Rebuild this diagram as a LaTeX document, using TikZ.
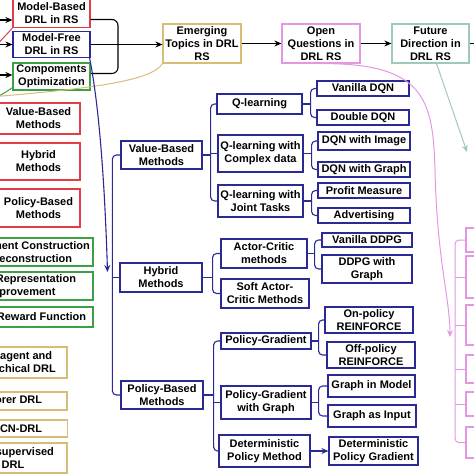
\documentclass[tikz,border=0pt]{standalone}
\usepackage{fontspec}
\setmainfont{Liberation Sans}
\usetikzlibrary{calc, arrows.meta}

\definecolor{mbred}{RGB}{226,62,72}
\definecolor{mfblue}{RGB}{42,42,150}
\definecolor{cogreen}{RGB}{62,160,70}
\definecolor{emtan}{RGB}{214,190,120}
\definecolor{oqpink}{RGB}{228,150,228}
\definecolor{fdteal}{RGB}{160,200,192}

\tikzset{
  box/.style={draw, line width=1.2pt, inner sep=1pt, align=center,
    font=\bfseries\fontsize{11}{13}\selectfont},
  redbox/.style={box, draw=mbred},
  bluebox/.style={box, draw=mfblue},
  greenbox/.style={box, draw=cogreen},
  tanbox/.style={box, draw=emtan},
  pinkbox/.style={box, draw=oqpink},
  tealbox/.style={box, draw=fdteal},
  brc/.style={draw=mfblue, line width=1.1pt, rounded corners=4pt},
  arr/.style={line width=1.1pt, -{Stealth[length=7pt, width=6pt]}},
}

\begin{document}
\begin{tikzpicture}[x=1pt, y=-1pt]
  \useasboundingbox (0,0) rectangle (474,474);
  \clip (0,0) rectangle (474,474);

  % top left group
  \node[redbox, minimum width=77, minimum height=28] (mb) at (51.5,13.5) {Model-Based\\DRL in RS};
  \node[bluebox, minimum width=77, minimum height=26] (mf) at (51.5,44.5) {Model-Free\\DRL in RS};
  \node[greenbox, minimum width=77, minimum height=27] (co) at (51.5,76.5) {Compoments\\Optimization};
  \coordinate (inmb) at (-8,20);
  \coordinate (inmf) at (-8,44.5);
  \coordinate (inco) at (-8,75);
  \draw[arr] (inmb) -- (inmb -| mb.west);
  \draw[arr] (inmf) -- (inmf -| mf.west);
  \draw[arr] (inco) -- (inco -| co.west);
  \coordinate (jn) at (118,44.5);
  \draw[line width=1.1pt, rounded corners=6pt] ([yshift=-6pt]mb.east) -| (jn) |- ([yshift=3pt]co.east);

  % top row
  \node[tanbox, minimum width=78, minimum height=39] (em) at (202,43.5) {Emerging\\Topics in DRL\\RS};
  \node[pinkbox, minimum width=78, minimum height=39] (oq) at (321,43.5) {Open\\Questions in\\DRL RS};
  \node[tealbox, minimum width=77, minimum height=39] (fd) at (430.5,43.5) {Future\\Direction in\\DRL RS};
  \coordinate (fdout) at (482,43.5);
  \draw[arr] (mf.east) -- (mf.east -| em.west);
  \draw[arr] (em) -- (oq);
  \draw[arr] (oq) -- (fd);
  \draw[line width=1.1pt] (fd) -- (fdout);

  % left boxes, cut by the frame
  \node[redbox, minimum width=83, minimum height=31] (lvb) at (38.5,118.5) {Value-Based\\Methods};
  \node[redbox, minimum width=83, minimum height=37] (lhy) at (38.5,161.5) {Hybrid\\Methods};
  \node[redbox, minimum width=83, minimum height=38] (lpb) at (38.5,208) {Policy-Based\\Methods};
  \node[greenbox, minimum width=145, minimum height=28] (lec) at (20.5,252) {Environment Construction\\and Reconstruction};
  \node[greenbox, minimum width=144, minimum height=28] (lsr) at (21,286) {State Representation\\Improvement};
  \node[greenbox, minimum width=103, minimum height=20] (lrf) at (41.5,317) {Reward Function};
  \node[tanbox, minimum width=111, minimum height=31] (lma) at (11.5,362.5) {Multi-agent and\\Hierarchical DRL};
  \node[tanbox, minimum width=120, minimum height=18] (lex) at (7,401) {Explorer DRL};
  \node[tanbox, minimum width=101, minimum height=17] (lgc) at (16.8,428.5) {GCN-DRL};
  \node[tanbox, minimum width=108, minimum height=30] (lss) at (13,458) {Self-supervised\\DRL};

  % links to the left groups
  \coordinate (redend) at (-8,50);
  \coordinate (greenend) at (-8,100);
  \coordinate (tanend) at (-10,97);
  \draw[mbred, line width=1pt] (mb.south west) .. controls (6,35) .. (redend);
  \draw[cogreen, line width=1pt] ([yshift=3pt]co.south west) .. controls (6,92) .. (greenend);
  \draw[emtan, line width=1pt] (em.south west) .. controls (152,80) and (100,88) .. (tanend);

  % method tree
  \node[bluebox, minimum width=81, minimum height=28] (vb) at (161.5,155) {Value-Based\\Methods};
  \node[bluebox, minimum width=82, minimum height=29] (hy) at (161,277.5) {Hybrid\\Methods};
  \node[bluebox, minimum width=82, minimum height=28] (pb) at (162,395) {Policy-Based\\Methods};

  \node[bluebox, minimum width=85, minimum height=20] (ql) at (259.5,104) {Q-learning};
  \node[bluebox, minimum width=85, minimum height=37] (qc) at (260.5,153.5) {Q-learning with\\Complex data};
  \node[bluebox, minimum width=85, minimum height=32] (qj) at (260.5,201) {Q-learning with\\Joint Tasks};
  \node[bluebox, minimum width=86, minimum height=29] (ac) at (264,253.5) {Actor-Critic\\methods};
  \node[bluebox, minimum width=88, minimum height=29] (sac) at (265,293.5) {Soft Actor-\\Critic Methods};
  \node[bluebox, minimum width=90, minimum height=16] (pg) at (266,341) {Policy-Gradient};
  \node[bluebox, minimum width=90, minimum height=33] (pgg) at (266,402.5) {Policy-Gradient\\with Graph};
  \node[bluebox, minimum width=91, minimum height=32] (dpm) at (264.5,451) {Deterministic\\Policy Method};

  \node[bluebox, minimum width=92, minimum height=15] (vdqn) at (363,88.5) {Vanilla DQN};
  \node[bluebox, minimum width=92, minimum height=15] (ddqn) at (363,117.5) {Double DQN};
  \node[bluebox, minimum width=92, minimum height=18] (dimg) at (364,141) {DQN with Image};
  \node[bluebox, minimum width=92, minimum height=15] (dgra) at (364,169.5) {DQN with Graph};
  \node[bluebox, minimum width=92, minimum height=15] (prof) at (364,190.5) {Profit Measure};
  \node[bluebox, minimum width=92, minimum height=15] (adv) at (364,215.5) {Advertising};
  \node[bluebox, minimum width=90, minimum height=14] (vddpg) at (367,240) {Vanilla DDPG};
  \node[bluebox, minimum width=90, minimum height=28] (ddpgg) at (367,269) {DDPG with\\Graph};
  \node[bluebox, minimum width=88, minimum height=26] (onp) at (369,320) {On-policy\\REINFORCE};
  \node[bluebox, minimum width=88, minimum height=26] (offp) at (371,355) {Off-policy\\REINFORCE};
  \node[bluebox, minimum width=87, minimum height=22] (gim) at (371.5,386) {Graph in Model};
  \node[bluebox, minimum width=88, minimum height=22] (gai) at (372,416) {Graph as Input};
  \node[bluebox, minimum width=89, minimum height=28] (dpg) at (373.5,451) {Deterministic\\Policy Gradient};

  % brackets of the tree
  \draw[brc] (hy.west) -- ++(-7,0) coordinate (bhy);
  \draw[brc] (vb.west) -| (bhy) |- (pb.west);
  \draw[brc] (vb.east) -- ++(8,0) coordinate (bvb);
  \draw[brc] (ql.west) -| (bvb) |- (qj.west);
  \draw[brc] (qc.west) -- (qc.west -| bvb);
  \draw[brc] (hy.east) -- ++(10,0) coordinate (bhy2);
  \draw[brc] (ac.west) -| (bhy2) |- (sac.west);
  \draw[brc] (pb.east) -- ++(10,0) coordinate (bpb);
  \draw[brc] (pg.west) -| (bpb) |- (dpm.west);
  \draw[brc] (pgg.west) -- (pgg.west -| bpb);
  \draw[brc] (ql.east) -- ++(8,0) coordinate (bql);
  \draw[brc] (vdqn.west) -| (bql) |- (ddqn.west);
  \draw[brc] (qc.east) -- ++(8,0) coordinate (bqc);
  \draw[brc] (dimg.west) -| (bqc) |- (dgra.west);
  \draw[brc] (qj.east) -- ++(8,0) coordinate (bqj);
  \draw[brc] (prof.west) -| (bqj) |- (adv.west);
  \draw[brc] (ac.east) -- ++(7,0) coordinate (bac);
  \draw[brc] (vddpg.west) -| (bac) |- (ddpgg.west);
  \draw[brc] (pg.east) -- ++(7,0) coordinate (bpg);
  \draw[brc] (onp.west) -| (bpg) |- (offp.west);
  \draw[brc] (pgg.east) -- ++(7,0) coordinate (bpgg);
  \draw[brc] (gim.west) -| (bpgg) |- (gai.west);
  \draw[arr, mfblue] (dpm) -- (dpg);

  % model-free into the tree
  \coordinate (mfend) at (107.5,272);
  \draw[arr, mfblue] ([xshift=-1pt]mf.south east) .. controls (97,95) and (104,160) .. (mfend);

  % right side, cut by the frame
  \node[pinkbox, minimum width=30, minimum height=24] (rp1) at (481,240) {};
  \node[pinkbox, minimum width=30, minimum height=42] (rp2) at (481,277) {};
  \node[pinkbox, minimum width=30, minimum height=40] (rp3) at (481,325) {};
  \node[pinkbox, minimum width=30, minimum height=28] (rp4) at (481,369) {};
  \node[pinkbox, minimum width=30, minimum height=24] (rp5) at (481,404) {};
  \node[pinkbox, minimum width=30, minimum height=31] (rp6) at (481,442.5) {};
  \coordinate (bpk) at (455,340);
  \draw[oqpink, line width=1pt, rounded corners=4pt] (rp1.west) -| (bpk) |- (rp6.west);
  \draw[oqpink, line width=1pt] (rp2.west) -- (rp2.west -| bpk);
  \draw[oqpink, line width=1pt] (rp3.west) -- (rp3.west -| bpk);
  \draw[oqpink, line width=1pt] (rp4.west) -- (rp4.west -| bpk);
  \draw[oqpink, line width=1pt] (rp5.west) -- (rp5.west -| bpk);

  \coordinate (oqend) at (450,337);
  \draw[arr, oqpink, line width=1pt] (oq.south) .. controls (425,63) and (433,100) .. (435,170)
    .. controls (437,260) and (450,300) .. (oqend);
  \coordinate (fdend) at (467,152);
  \draw[arr, fdteal, line width=1pt] ([xshift=6pt]fd.south) -- (fdend);
\end{tikzpicture}
\end{document}
